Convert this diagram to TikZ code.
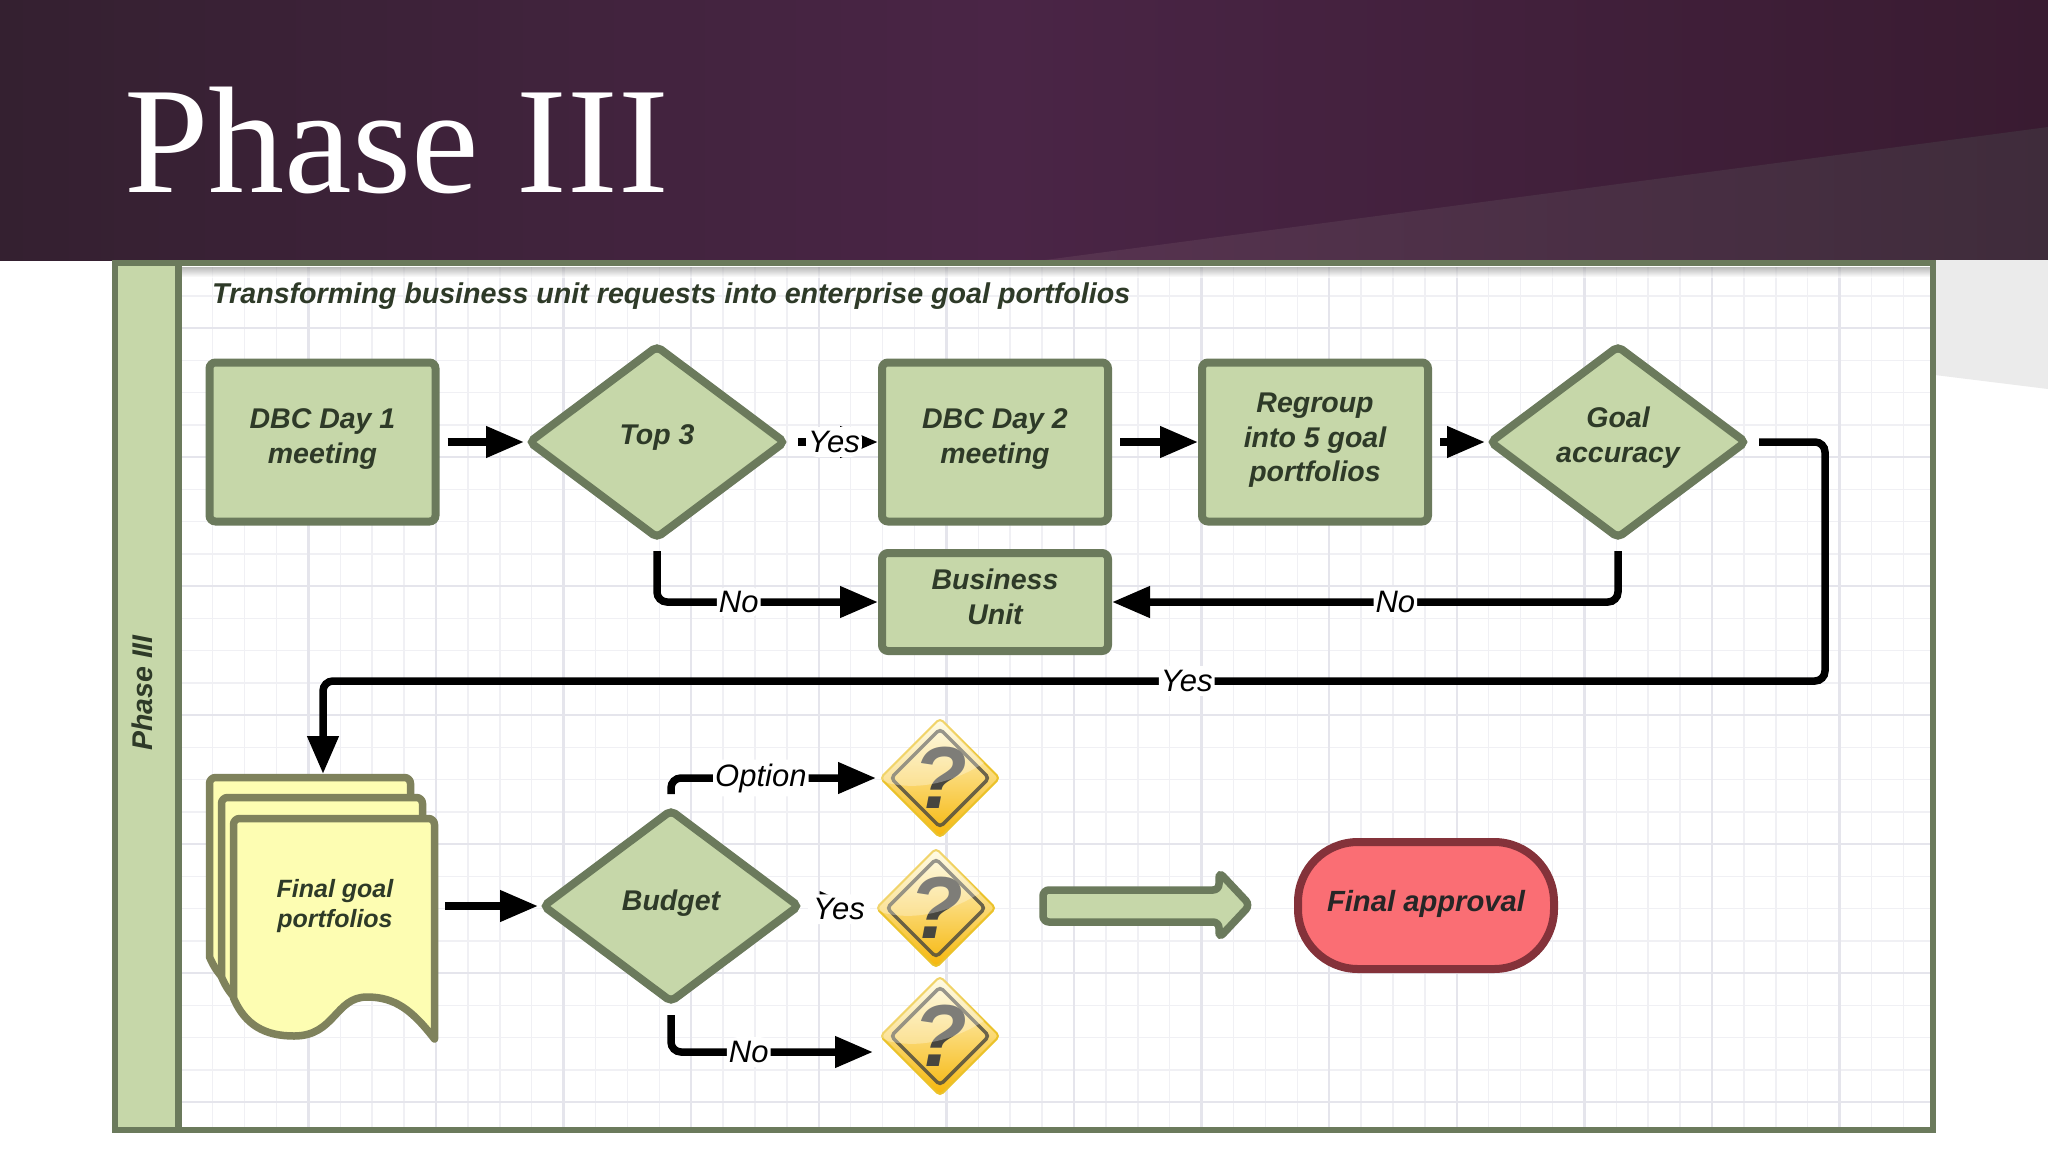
\documentclass[tikz,border=0pt]{standalone}
\usepackage{fontspec}
\setmainfont{Liberation Sans}
\newfontfamily\slidefont{Liberation Serif}
\usetikzlibrary{arrows.meta, shapes.geometric, shadows}

\definecolor{hdrA}{HTML}{342030}
\definecolor{hdrB}{HTML}{4A2546}
\definecolor{hdrC}{HTML}{391B31}
\definecolor{wedgeA}{HTML}{573350}
\definecolor{wedgeB}{HTML}{3F2C3B}
\definecolor{olive}{HTML}{6B7A5C}
\definecolor{sage}{HTML}{C6D7A9}
\definecolor{inkG}{HTML}{2E3A28}
\definecolor{gridA}{HTML}{E5E5EC}
\definecolor{gridB}{HTML}{F0F0F4}
\definecolor{paper}{HTML}{FDFDB2}
\definecolor{paperEdge}{HTML}{7F825C}
\definecolor{redFill}{HTML}{FA6E74}
\definecolor{redEdge}{HTML}{84323A}
\definecolor{qedge}{HTML}{EBC22A}
\definecolor{qtop}{HTML}{FFFBDC}
\definecolor{qmid}{HTML}{FFD21E}
\definecolor{qbot}{HTML}{F6B60A}
\definecolor{qink}{HTML}{47463F}

% text sits a little above the middle of each shape
\newcommand{\tup}[2][-3.5pt]{\raisebox{#1}[0pt][0pt]{\begin{tabular}{@{}c@{}}#2\end{tabular}}}

\begin{document}
\begin{tikzpicture}[
  x=1pt, y=-1pt,
  softshadow/.style={drop shadow={shadow xshift=2.5pt,shadow yshift=-3pt,opacity=.22,fill=black}},
  shapetext/.style={text=inkG, font=\fontsize{28.5}{34.5}\selectfont\bfseries\itshape},
  box/.style={rectangle, draw=olive, fill=sage, line width=8pt, rounded corners=6pt,
    minimum width=226pt, minimum height=159pt, inner sep=0pt, softshadow, shapetext},
  dia/.style={diamond, draw=olive, fill=sage, line width=8pt, rounded corners=5pt,
    minimum width=258pt, minimum height=194pt, inner sep=0pt, softshadow, shapetext},
  flow/.style={line width=7.5pt, black, rounded corners=10pt,
    -{Triangle[length=38pt,width=30pt]}, shorten <=8pt, shorten >=0pt},
  lab/.style={fill=white, inner xsep=2pt, inner ysep=4pt, text=black,
    font=\fontsize{31}{36}\selectfont\itshape},
  sheet/.style={draw=paperEdge, fill=paper, line width=7.5pt, line join=round,
    drop shadow={shadow xshift=2pt,shadow yshift=-3pt,opacity=.18,fill=black}},
  qm/.style={diamond, minimum width=120pt, minimum height=120pt, inner sep=0pt,
    rounded corners=4pt, draw=qedge, line width=2pt,
    top color=qtop, middle color=qmid, bottom color=qbot,
    text=qink, font=\fontsize{88}{88}\selectfont\bfseries\itshape,
    path picture={\draw[line width=3.5pt, qink, opacity=.8]
      (path picture bounding box.center) +(-49,0) -- +(0,-49) -- +(49,0) -- +(0,49) -- cycle;}},
]
\useasboundingbox (0,0) rectangle (2048,1152);
\fill[white] (0,0) rectangle (2048,1152);

% slide header
\shade[left color=hdrA, right color=hdrB] (0,0) rectangle (1000,260);
\shade[left color=hdrB, right color=hdrC] (1000,0) rectangle (2048,260);
\shade[left color=wedgeA, right color=wedgeB] (1045,260) -- (2048,127) -- (2048,260) -- cycle;
\fill[black!8] (1935,260) -- (2048,260) -- (2048,389) -- (1935,375) -- cycle;
\node[anchor=base west, inner sep=0pt, text=white, font=\fontsize{152}{152}\selectfont\slidefont] (slide) at (124,192) {Phase III};

% panel background and grid
\fill[white] (114,263) rectangle (1932,1129);
\foreach \k in {0,...,54} \draw[gridB, line width=1.5pt] ({180.8+31.9*\k},267) -- ({180.8+31.9*\k},1127);
\foreach \k in {0,...,25} \draw[gridB, line width=1.5pt] (180,{295.75+32.25*\k}) -- (1930,{295.75+32.25*\k});
\foreach \k in {0,...,13} \draw[gridA, line width=2.5pt] ({180.8+127.6*\k},267) -- ({180.8+127.6*\k},1127);
\foreach \k in {0,...,6} \draw[gridA, line width=2.5pt] (180,{328+129*\k}) -- (1930,{328+129*\k});
\shade[top color=black!45, bottom color=white, opacity=.6] (181,267) rectangle (1930,277);

% sidebar and frame
\fill[sage] (114,263) rectangle (178,1129);
\draw[olive, line width=7pt] (178,263) -- (178,1129);
\draw[olive, line width=6pt] (115,263) rectangle (1932.5,1129.5);
\node[rotate=90, inner sep=0pt, shapetext] (side) at (142,693) {Phase III};
\node[anchor=west, inner sep=0pt, shapetext, font=\fontsize{28.65}{34}\selectfont\bfseries\itshape] (head) at (212,296) {Transforming business unit requests into enterprise goal portfolios};

% upper row
\node[box] (d1) at (322.5,442) {\tup{DBC Day 1\\meeting}};
\node[dia] (top3) at (657,442) {\tup[-1.5pt]{Top 3}};
\node[box] (d2) at (995,442) {\tup{DBC Day 2\\meeting}};
\node[box] (reg) at (1315,442) {\tup[-4.5pt]{Regroup\\into 5 goal\\portfolios}};
\node[dia] (goal) at (1618,442) {\tup[-2.5pt]{Goal\\accuracy}};
\node[box, minimum height=98pt] (bu) at (995,602) {\tup[-4.5pt]{Business\\Unit}};

% stacked documents
\foreach \dx/\dy in {-24/-41,-12/-21,0/0}
  \draw[sheet, shift={(\dx,\dy)}] (233.5,998) [rounded corners=6pt] -- (233.5,818.5) -- (434.5,818.5) [sharp corners] -- (434.5,1039)
    .. controls (412,1010) and (395,997) .. (367,997)
    .. controls (335,997) and (335,1036) .. (294,1036)
    .. controls (265,1036) and (245,1025) .. (233.5,998) -- cycle;
\node[inner sep=0pt, shapetext, font=\fontsize{25}{30}\selectfont\bfseries\itshape] (fg) at (335,909) {\tup{Final goal\\portfolios}};
\coordinate (stkN) at (323,774);
\coordinate (stkE) at (437,906);

% lower row
\node[dia] (bud) at (671,906) {\tup{Budget}};
\node[qm] (q1) at (940,778) {?};
\node[qm] (q2) at (936,908) {?};
\node[qm] (q3) at (940,1036) {?};
\foreach \q in {q1,q2,q3}
  \fill[white, opacity=.3] (\q.west) -- (\q.north) -- ([shift={(44,-15)}]\q.center)
    .. controls ([shift={(20,0)}]\q.center) and ([shift={(-15,14)}]\q.center) .. ([shift={(-52,5)}]\q.center) -- cycle;

% block arrow and final state
\draw[olive, fill=sage, line width=7.5pt, rounded corners=6pt, softshadow]
  (1043,890) -- (1219,890) -- (1219,872) -- (1250,905) -- (1219,938) -- (1219,922) -- (1043,922) -- cycle;
\node[rectangle, draw=redEdge, fill=redFill, line width=8pt, rounded corners=60pt, inner sep=0pt,
  minimum width=256pt, minimum height=127pt, softshadow, shapetext,
  font=\fontsize{29.2}{36}\selectfont\bfseries\itshape, text=black!85] (fin) at (1426,905.5) {\tup[-5pt]{Final approval}};

% connectors
\coordinate (c1) at (1825,681);
\coordinate (c2) at (323,681);
\draw[flow] (d1) -- (top3);
\draw[flow] (top3) -- node[lab] (l1) {Yes} (d2);
\draw[flow] (d2) -- (reg);
\draw[flow] (reg) -- (goal);
\draw[flow] (top3.south) |- node[lab, pos=.685] (l2) {No} (bu.west);
\draw[flow] (goal.south) |- node[lab, pos=.72] (l3) {No} (bu.east);
\draw[flow] (goal.east) -| (c1) -- node[lab, pos=.425] (l4) {Yes} (c2) -- (stkN);
\draw[flow] (stkE) -- (bud);
\draw[flow, shorten >=3pt, shorten <=11pt] (bud.north) |- node[lab, pos=.716] (l5) {Option} (q1.west);
\draw[flow, shorten <=9pt, shorten >=18pt] (bud) -- node[lab, minimum width=62pt, pos=.5, yshift=-2pt] (l6) {Yes} (q2);
\draw[flow, shorten >=6pt] (bud.south) |- node[lab, pos=.687] (l7) {No} ([yshift=-16pt]q3.west);
\end{tikzpicture}
\end{document}
